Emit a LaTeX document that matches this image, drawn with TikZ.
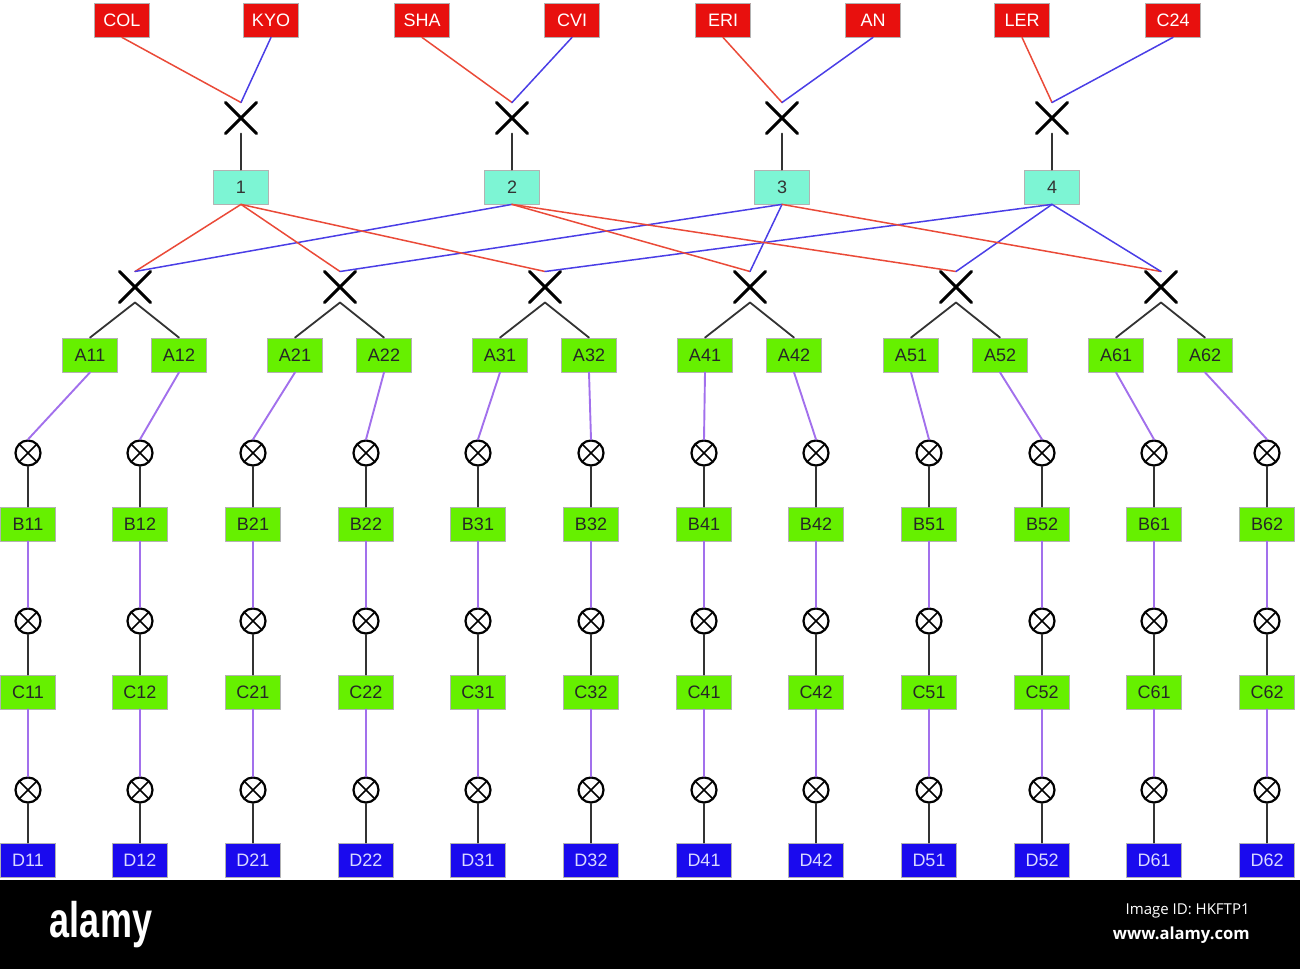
\documentclass[tikz,border=0pt]{standalone}
\usepackage{fontspec}
\setmainfont{Liberation Sans}
\newfontfamily\idfont{Open Sans}
\usetikzlibrary{shapes.misc}

\definecolor{boxcolor1}{RGB}{232,16,14}
\definecolor{boxcolor2}{RGB}{125,245,212}
\definecolor{boxcolor3}{RGB}{102,240,0}
\definecolor{boxcolor4}{RGB}{26,10,238}
\definecolor{linecolor1}{RGB}{234,74,56}
\definecolor{linecolor2}{RGB}{74,62,230}
\definecolor{linecolor3}{RGB}{162,112,236}

\begin{document}
\begin{tikzpicture}[line cap=round, line join=round, x=0.5pt, y=-0.5pt,
		caja/.style={draw=black!30, line width=0.4pt, minimum width=27.5pt, minimum height=17pt, inner sep=0pt, font=\fontsize{9}{10}\selectfont},
		cruce/.style={cross out, draw=black, line width=1.5pt, minimum size=9.5pt, inner sep=0pt, outer sep=3pt},
		mult/.style={circle, draw=black, line width=1.1pt, minimum size=12.5pt, inner sep=0pt,
			path picture={\draw[line width=0.8pt] (path picture bounding box.north west) -- (path picture bounding box.south east)
				(path picture bounding box.north east) -- (path picture bounding box.south west);}},
		negra/.style={draw=black!80, line width=0.9pt},
		lila/.style={draw=linecolor3, line width=0.95pt}]
		
		% Ventana de dibujo
		\useasboundingbox (0,0) rectangle (1300,969);
		
		% Padres (fila superior en rojo)
		\foreach \nombre/\x in {COL/122, KYO/271, SHA/422, CVI/572, ERI/723, AN/873, LER/1022, C24/1173}
		\node [caja, fill=boxcolor1, text=white] (\nombre) at (\x,20) {\nombre};
		
		% Primeros cruces y lineas F1 (1 a 4)
		\foreach \i/\x in {1/241, 2/512, 3/782, 4/1052} {
			\node [cruce] (x\i) at (\x,118) {};
			\node [caja, fill=boxcolor2, text=black!80] (f\i) at (\x,187) {\i};
			\draw [negra] (x\i) -- (f\i);
		}
		\foreach \a/\b/\i in {COL/KYO/1, SHA/CVI/2, ERI/AN/3, LER/C24/4} {
			\draw [linecolor1, line width=0.75pt] (\a.south) -- (x\i.north);
			\draw [linecolor2, line width=0.75pt] (\b.south) -- (x\i.north);
		}
		
		% Cruces entre lineas F1 (rojo = primer padre, azul = segundo padre)
		\foreach \j/\x/\p/\q in {1/135/1/2, 2/340/1/3, 3/545/1/4, 4/750/2/3, 5/956/2/4, 6/1161/3/4} {
			\node [cruce] (y\j) at (\x,287) {};
			\draw [linecolor1, line width=0.75pt] (f\p.south) -- (y\j.north);
			\draw [linecolor2, line width=0.75pt] (f\q.south) -- (y\j.north);
			\node [caja, fill=boxcolor3, text=black!85] (A\j1) at (\x-45,355) {A\j1};
			\node [caja, fill=boxcolor3, text=black!85] (A\j2) at (\x+44,355) {A\j2};
			\draw [negra] (y\j.south) -- (A\j1.north);
			\draw [negra] (y\j.south) -- (A\j2.north);
		}
		
		% Columnas de descendientes B, C y D
		\foreach \n [count=\k from 0] in {11,12,21,22,31,32,41,42,51,52,61,62} {
			\pgfmathtruncatemacro\cx{28+112.7*\k}
			\node [mult] (m1\n) at (\cx,453) {};
			\node [caja, fill=boxcolor3, text=black!85] (B\n) at (\cx,524) {B\n};
			\node [mult] (m2\n) at (\cx,621) {};
			\node [caja, fill=boxcolor3, text=black!85] (C\n) at (\cx,692) {C\n};
			\node [mult] (m3\n) at (\cx,790) {};
			\node [caja, fill=boxcolor4, text=white!85!blue] (D\n) at (\cx,860) {D\n};
			\draw [lila] (A\n.south) -- (m1\n.north);
			\draw [negra] (m1\n.south) -- (B\n.north);
			\draw [lila] (B\n.south) -- (m2\n.north);
			\draw [negra] (m2\n.south) -- (C\n.north);
			\draw [lila] (C\n.south) -- (m3\n.north);
			\draw [negra] (m3\n.south) -- (D\n.north);
		}
		
		% Franja inferior
		\fill [black] (0,880) rectangle (1300,969);
		\node [text=white, font=\fontsize{25}{25}\selectfont\bfseries, inner sep=0pt] (logo) at (101,925) {\scalebox{0.72}[1]{alamy}};
		\node [anchor=east, text=white, font=\idfont\fontsize{7.5}{9}\selectfont, inner sep=0pt] (imgid) at (1250,911) {Image ID: HKFTP1};
		\node [anchor=east, text=white, font=\idfont\fontsize{8.3}{10}\selectfont\bfseries, inner sep=0pt] (web) at (1250,935) {www.alamy.com};
		
	\end{tikzpicture}
\end{document}
